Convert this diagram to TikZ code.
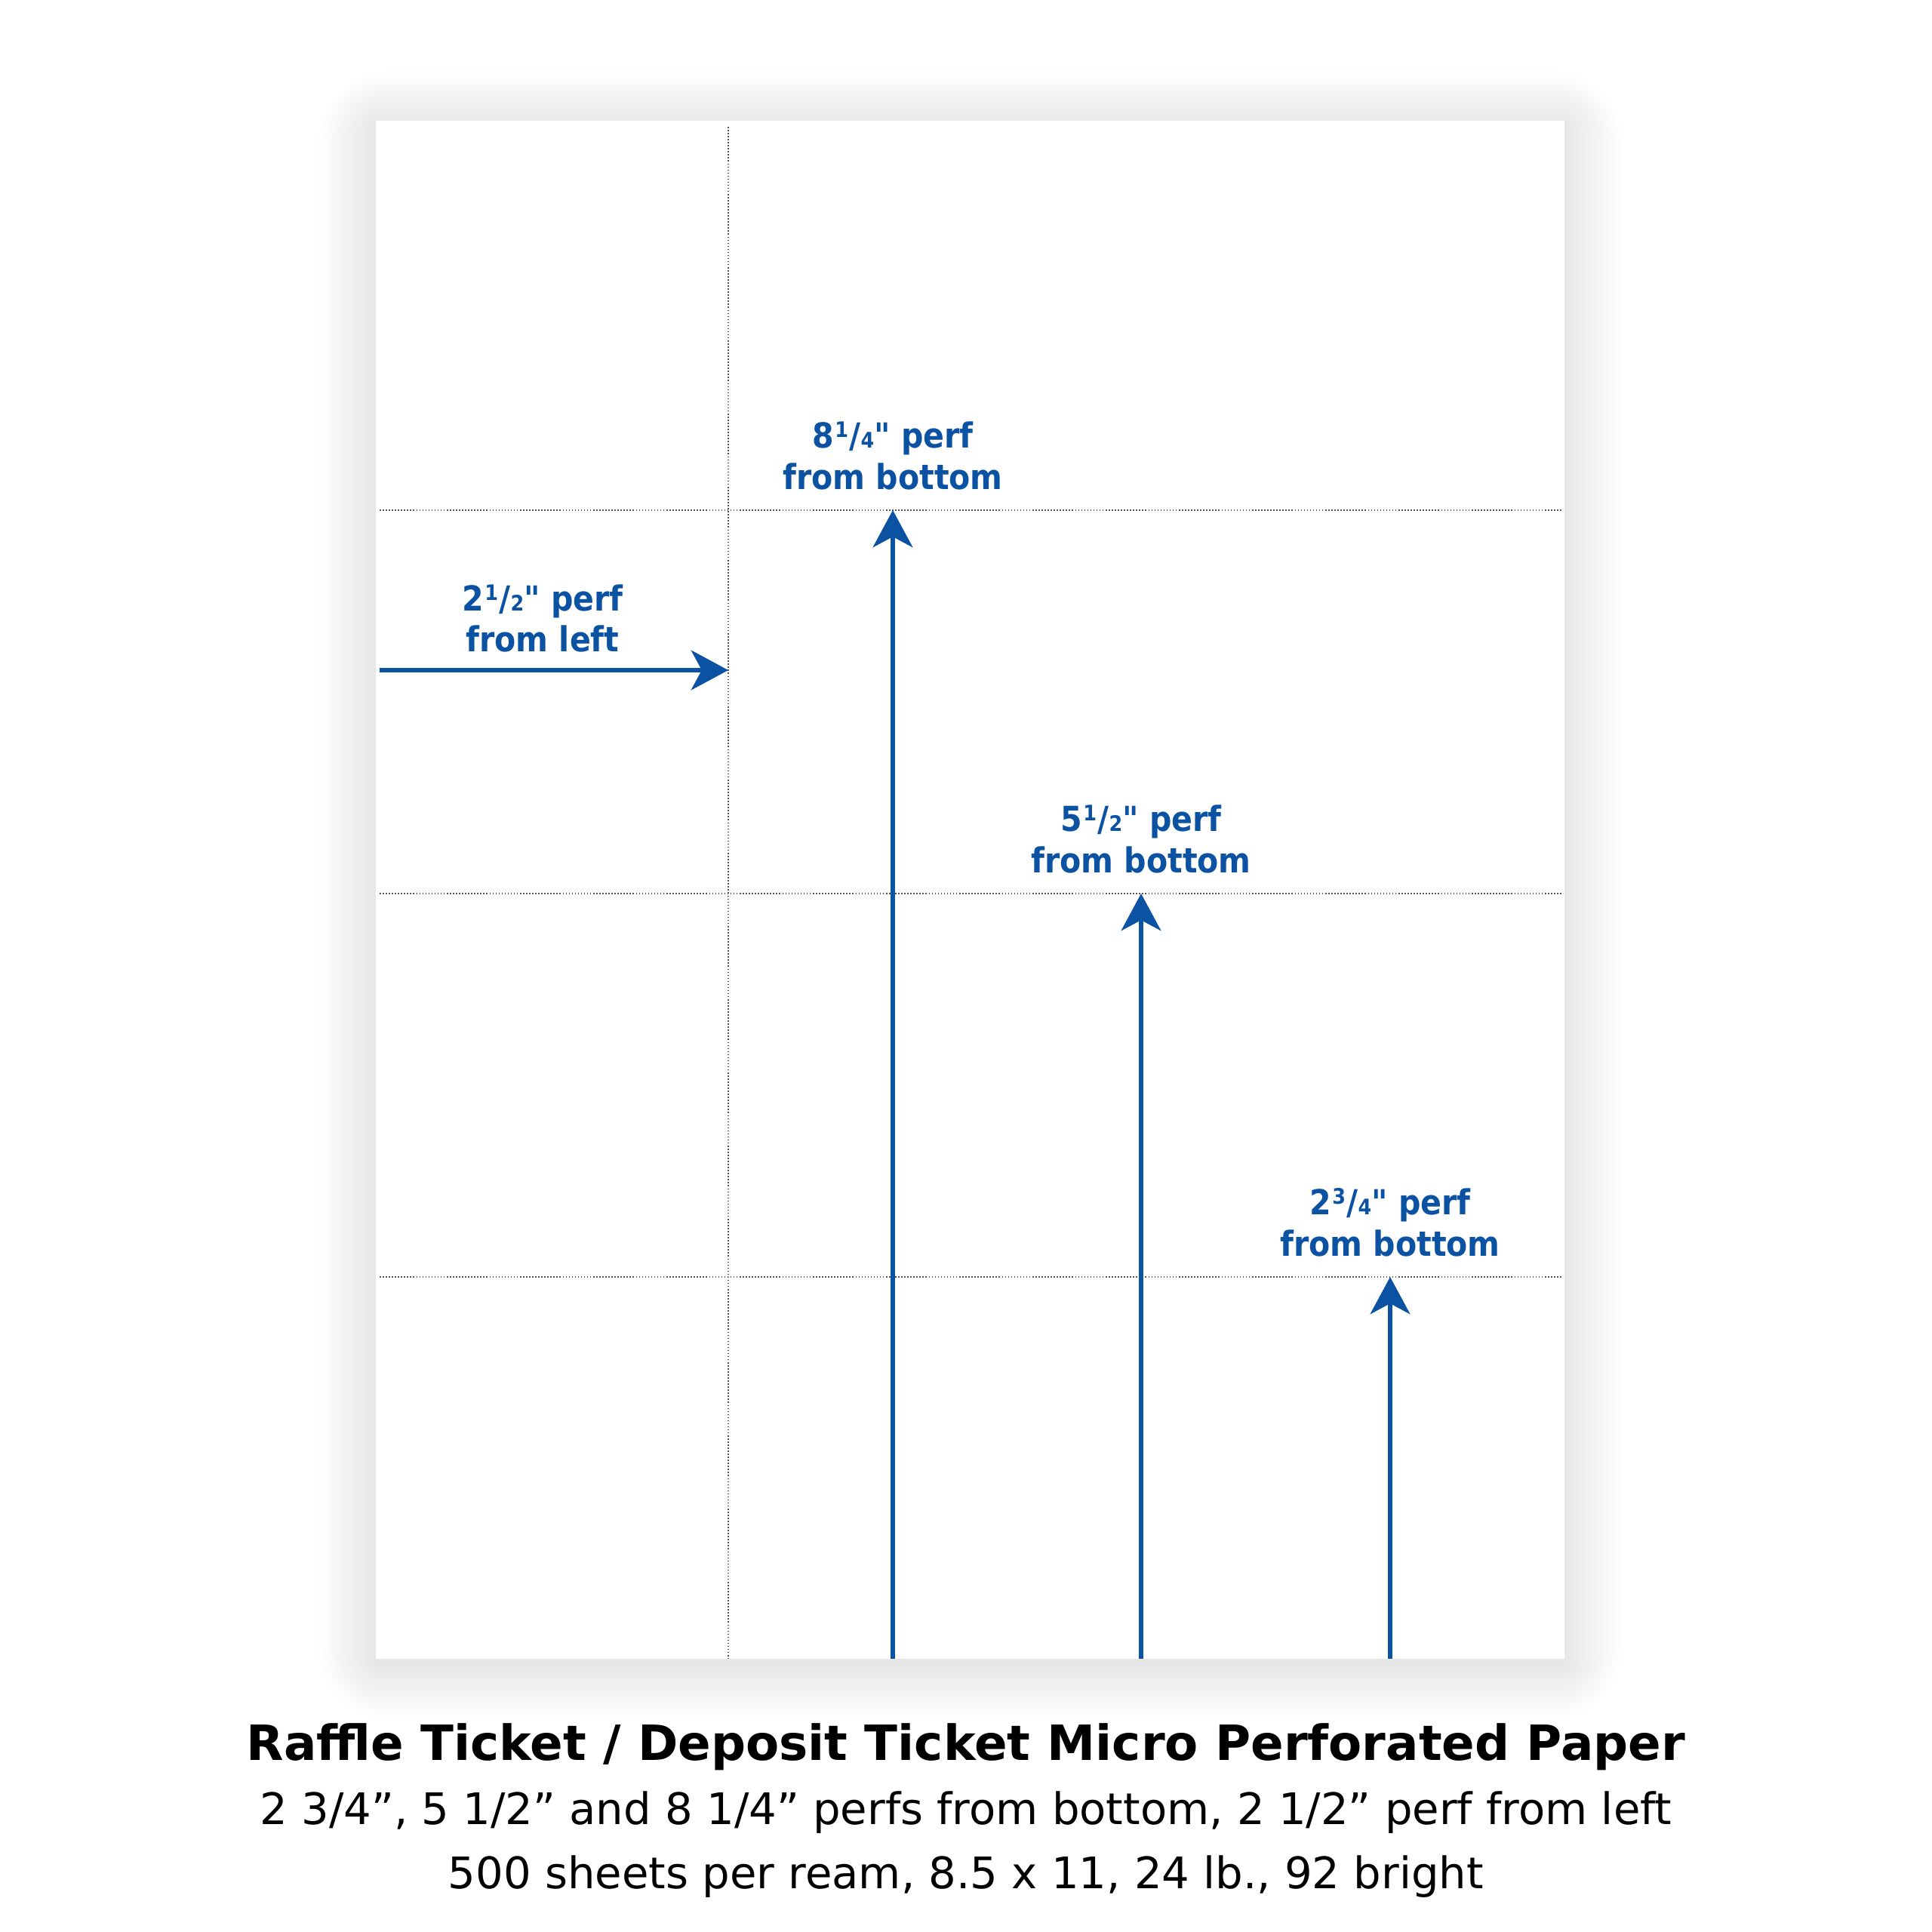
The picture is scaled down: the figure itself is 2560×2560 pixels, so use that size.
\documentclass[tikz,border=0pt]{standalone}
\usepackage{fontspec}
\setmainfont{DejaVu Sans}
\newfontfamily\lblfont{DejaVu Sans Condensed}
\usetikzlibrary{arrows.meta}
\definecolor{perfblue}{RGB}{12,82,163}
\definecolor{perfgray}{RGB}{85,85,85}
\newcommand{\frc}[2]{\kern0.03em\raisebox{0.29em}{\scalebox{0.62}{#1}}\kern0.02em/\kern0.01em\scalebox{0.62}{#2}}
\newcommand{\qt}{\char34}
\begin{document}
\begin{tikzpicture}[x=0.1mm,y=-0.1mm,
  lbl/.style={text=perfblue, font=\lblfont\fontsize{13}{15.6}\selectfont\bfseries, inner sep=0pt, anchor=base},
  perfline/.style={perfgray, line width=0.45pt, dash pattern=on 0.45pt off 0.7pt},
  arr/.style={perfblue, line width=1.5pt, -{Stealth[length=14pt,width=15pt,inset=4pt]}},
  captext/.style={text=black, inner sep=0pt, anchor=base},
  shadowlayer/.style={fill=black, opacity=0.0055}]
\useasboundingbox[fill=white] (0,0) rectangle (2560,2560);
% soft shadow of the sheet
\foreach \i in {1,...,24}{
  \fill[shadowlayer, rounded corners=\i*0.4mm]
    ({498-\i*3.2},{166-\i*3.0}) rectangle ({2073+\i*3.2},{2206+\i*3.0});
}
% paper
\fill[white] (498,160) rectangle (2073,2198);
% perforation coordinates
\coordinate (vt) at (965,168);
\coordinate (vb) at (965,2198);
\coordinate (h1l) at (503,676);  \coordinate (h1r) at (2070,676);
\coordinate (h2l) at (503,1184); \coordinate (h2r) at (2070,1184);
\coordinate (h3l) at (503,1692); \coordinate (h3r) at (2070,1692);
\draw[perfline] (vt) -- (vb);
\draw[perfline] (h1l) -- (h1r);
\draw[perfline] (h2l) -- (h2r);
\draw[perfline] (h3l) -- (h3r);
% arrows
\coordinate (lstart) at (503,888);
\coordinate (ltip) at (965,888);
\coordinate (a1s) at (1183,2198); \coordinate (a1t) at (1183,676);
\coordinate (a2s) at (1512,2198); \coordinate (a2t) at (1512,1184);
\coordinate (a3s) at (1842,2198); \coordinate (a3t) at (1842,1692);
\draw[arr] (lstart) -- (ltip);
\draw[arr] (a1s) -- (a1t);
\draw[arr] (a2s) -- (a2t);
\draw[arr] (a3s) -- (a3t);
% labels
\node[lbl] (l1a) at (1183,593) {8\frc{1}{4}\qt{} perf};
\node[lbl] (l1b) at (1183,648) {from bottom};
\node[lbl] (l2a) at (719,809) {2\frc{1}{2}\qt{} perf};
\node[lbl] (l2b) at (719,863) {from left};
\node[lbl] (l3a) at (1512,1101) {5\frc{1}{2}\qt{} perf};
\node[lbl] (l3b) at (1512,1156) {from bottom};
\node[lbl] (l4a) at (1842,1609) {2\frc{3}{4}\qt{} perf};
\node[lbl] (l4b) at (1842,1664) {from bottom};
% caption
\node[captext, font=\fontsize{18.3}{22}\selectfont\bfseries] (t1) at (1280,2332) {Raffle Ticket / Deposit Ticket Micro Perforated Paper};
\node[captext, font=\fontsize{16.4}{20}\selectfont] (t2) at (1280,2417) {2 3/4”, 5 1/2” and 8 1/4” perfs from bottom, 2 1/2” perf from left};
\node[captext, font=\fontsize{16.4}{20}\selectfont] (t3) at (1280,2502) {500 sheets per ream, 8.5 x 11, 24 lb., 92 bright};
\end{tikzpicture}
\end{document}
